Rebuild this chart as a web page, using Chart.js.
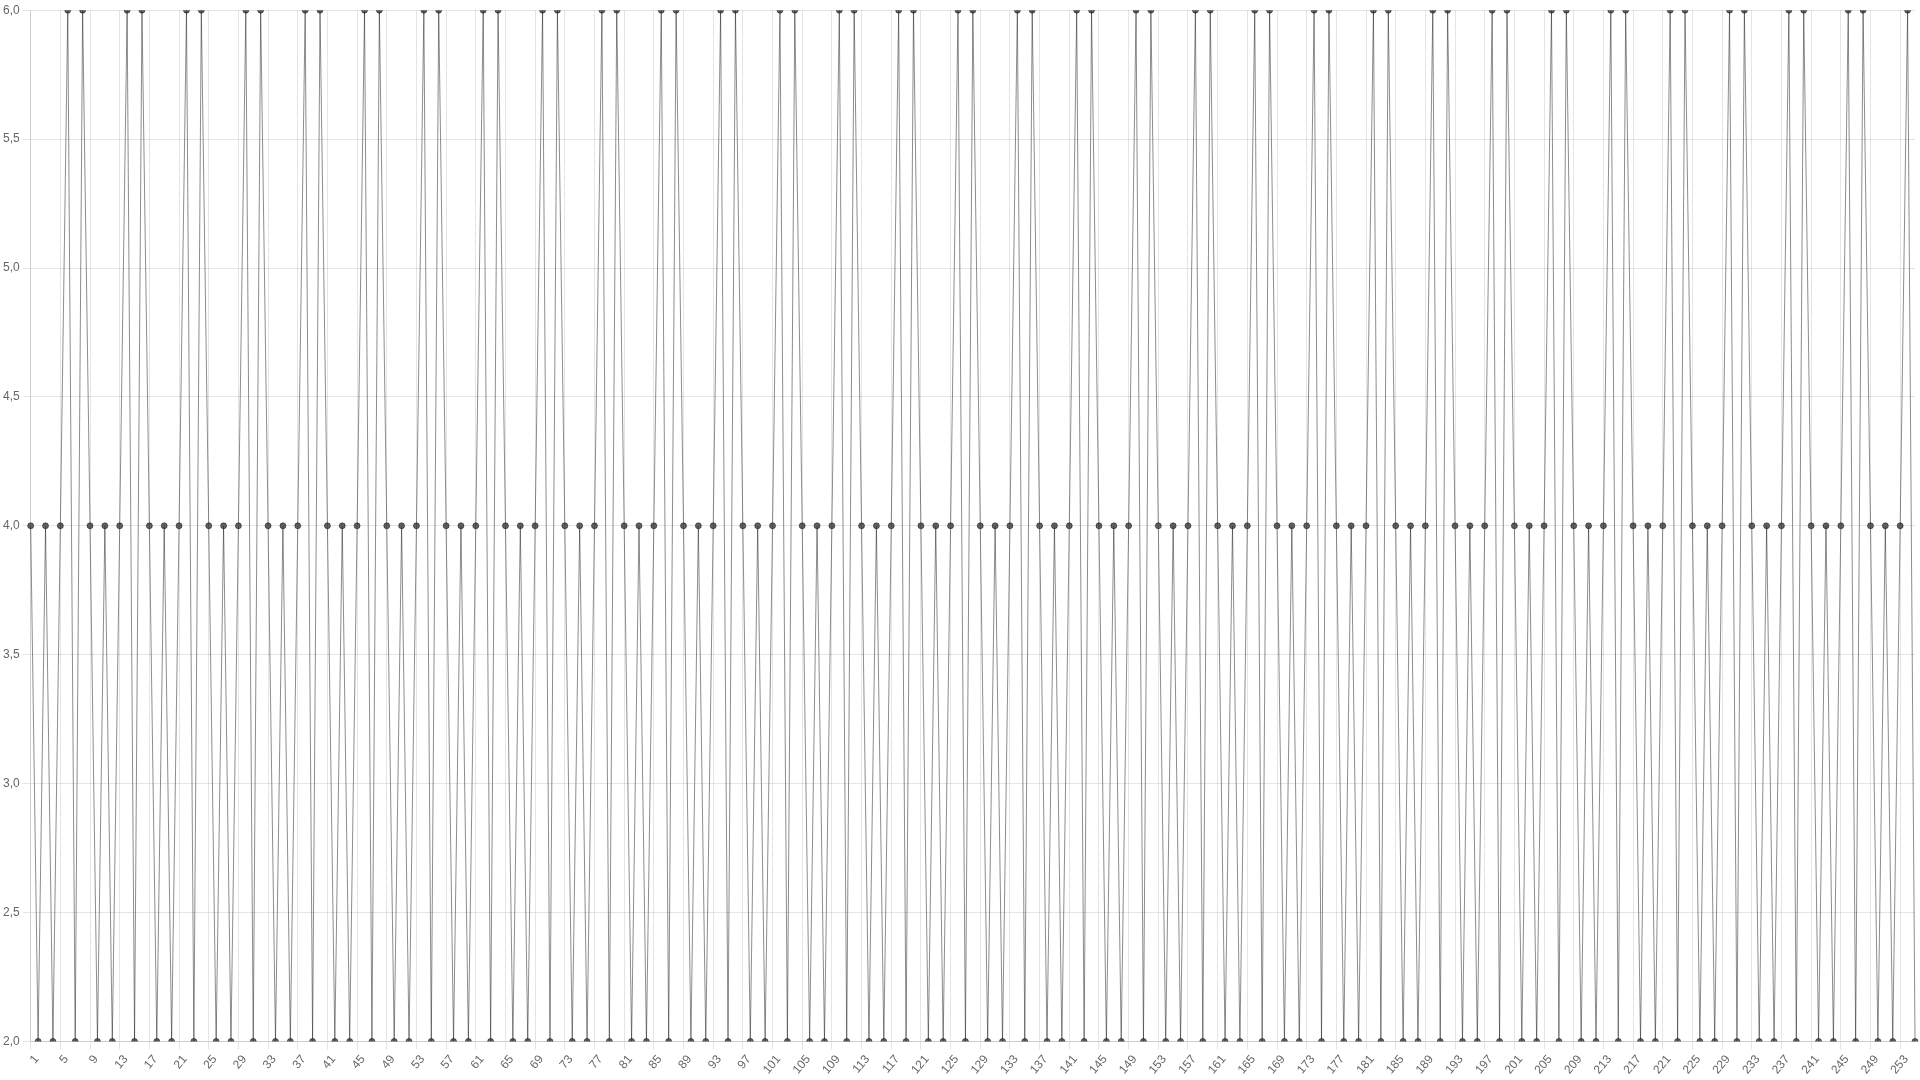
<!DOCTYPE html>
<html>
<head>
<meta charset="utf-8">
<script src="https://cdn.jsdelivr.net/npm/chart.js@4"></script>
<style>
html,body{margin:0;padding:0;background:#fff;}
#wrap{width:1920px;height:1080px;position:relative;}
</style>
</head>
<body>
<div id="wrap"><canvas id="c"></canvas></div>
<script>
const labels = [
  1,2,3,4,5,6,7,8,9,10,11,12,13,14,15,16,17,18,19,20,21,22,23,24,25,26,27,28,29,30,
  31,32,33,34,35,36,37,38,39,40,41,42,43,44,45,46,47,48,49,50,51,52,53,54,55,56,57,58,59,60,
  61,62,63,64,65,66,67,68,69,70,71,72,73,74,75,76,77,78,79,80,81,82,83,84,85,86,87,88,89,90,
  91,92,93,94,95,96,97,98,99,100,101,102,103,104,105,106,107,108,109,110,111,112,113,114,115,116,117,118,119,120,
  121,122,123,124,125,126,127,128,129,130,131,132,133,134,135,136,137,138,139,140,141,142,143,144,145,146,147,148,149,150,
  151,152,153,154,155,156,157,158,159,160,161,162,163,164,165,166,167,168,169,170,171,172,173,174,175,176,177,178,179,180,
  181,182,183,184,185,186,187,188,189,190,191,192,193,194,195,196,197,198,199,200,201,202,203,204,205,206,207,208,209,210,
  211,212,213,214,215,216,217,218,219,220,221,222,223,224,225,226,227,228,229,230,231,232,233,234,235,236,237,238,239,240,
  241,242,243,244,245,246,247,248,249,250,251,252,253,254,255
];
const values = [
  4,2,4,2,4,6,2,6, 4,2,4,2,4,6,2,6, 4,2,4,2,4,6,2,6, 4,2,4,2,4,6,2,6,
  4,2,4,2,4,6,2,6, 4,2,4,2,4,6,2,6, 4,2,4,2,4,6,2,6, 4,2,4,2,4,6,2,6,
  4,2,4,2,4,6,2,6, 4,2,4,2,4,6,2,6, 4,2,4,2,4,6,2,6, 4,2,4,2,4,6,2,6,
  4,2,4,2,4,6,2,6, 4,2,4,2,4,6,2,6, 4,2,4,2,4,6,2,6, 4,2,4,2,4,6,2,6,
  4,2,4,2,4,6,2,6, 4,2,4,2,4,6,2,6, 4,2,4,2,4,6,2,6, 4,2,4,2,4,6,2,6,
  4,2,4,2,4,6,2,6, 4,2,4,2,4,6,2,6, 4,2,4,2,4,6,2,6, 4,2,4,2,4,6,2,6,
  4,2,4,2,4,6,2,6, 4,2,4,2,4,6,2,6, 4,2,4,2,4,6,2,6, 4,2,4,2,4,6,2,6,
  4,2,4,2,4,6,2,6, 4,2,4,2,4,6,2,6, 4,2,4,2,4,6,2,6,
  4,2,4,2,4,6,2
];
const yMin = 2, yMax = 6, yStep = 0.5;

Chart.defaults.font.family = "'Helvetica Neue', Helvetica, Arial, 'Liberation Sans', sans-serif";
Chart.defaults.font.size = 12;
Chart.defaults.color = '#666';

new Chart(document.getElementById('c'), {
  type: 'line',
  data: {
    labels: labels,
    datasets: [{
      data: values,
      borderColor: 'rgba(0,0,0,0.45)',
      borderWidth: 1,
      backgroundColor: 'rgba(0,0,0,0.6)',
      pointBackgroundColor: 'rgba(60,60,60,0.8)',
      pointBorderColor: 'rgba(0,0,0,0.45)',
      pointBorderWidth: 1,
      pointRadius: 3,
      tension: 0,
      fill: false
    }]
  },
  options: {
    responsive: true,
    maintainAspectRatio: false,
    animation: false,
    plugins: { legend: { display: false }, tooltip: { enabled: false } },
    scales: {
      x: {
        grid: { color: 'rgba(0,0,0,0.1)' },
        ticks: { autoSkip: true, maxRotation: 50, minRotation: 50, labelOffset: 6 }
      },
      y: {
        min: yMin, max: yMax,
        grid: { color: 'rgba(0,0,0,0.1)' },
        ticks: {
          stepSize: yStep,
          callback: v => v.toFixed(1).replace('.', ',')
        }
      }
    }
  }
});
</script>
</body>
</html>
